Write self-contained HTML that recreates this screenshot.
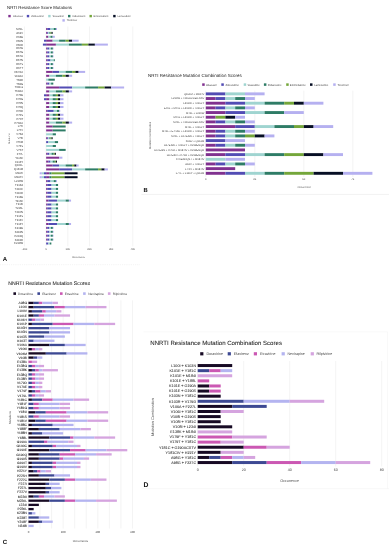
<!DOCTYPE html>
<html lang="en"><head><meta charset="utf-8"><title>Resistance mutation scores</title>
<style>
html,body{margin:0;padding:0;background:#fff;}
body{width:389px;height:550px;overflow:hidden;}
svg{display:block;font-family:"Liberation Sans", Arial, sans-serif;text-rendering:geometricPrecision;}
</style></head><body>
<svg width="389" height="550" viewBox="0 0 389 550">
<rect width="389" height="550" fill="#fff"/>
<line x1="24.49" y1="26.50" x2="24.49" y2="246.30" stroke="#e8e8e8" stroke-width="0.5"/>
<text x="24.49" y="249.60" font-size="2.7" text-anchor="middle" fill="#444" font-weight="normal">-100</text>
<line x1="46.15" y1="26.50" x2="46.15" y2="246.30" stroke="#e8e8e8" stroke-width="0.5"/>
<text x="46.15" y="249.60" font-size="2.7" text-anchor="middle" fill="#444" font-weight="normal">0</text>
<line x1="67.81" y1="26.50" x2="67.81" y2="246.30" stroke="#e8e8e8" stroke-width="0.5"/>
<text x="67.81" y="249.60" font-size="2.7" text-anchor="middle" fill="#444" font-weight="normal">100</text>
<line x1="89.47" y1="26.50" x2="89.47" y2="246.30" stroke="#e8e8e8" stroke-width="0.5"/>
<text x="89.47" y="249.60" font-size="2.7" text-anchor="middle" fill="#444" font-weight="normal">200</text>
<line x1="111.13" y1="26.50" x2="111.13" y2="246.30" stroke="#e8e8e8" stroke-width="0.5"/>
<text x="111.13" y="249.60" font-size="2.7" text-anchor="middle" fill="#444" font-weight="normal">300</text>
<line x1="132.79" y1="26.50" x2="132.79" y2="246.30" stroke="#e8e8e8" stroke-width="0.5"/>
<text x="132.79" y="249.60" font-size="2.7" text-anchor="middle" fill="#444" font-weight="normal">400</text>
<rect x="46.15" y="28.00" width="1.08" height="2.00" fill="#80318f"/>
<rect x="47.23" y="28.00" width="3.25" height="2.00" fill="#524cb4"/>
<rect x="50.48" y="28.00" width="3.25" height="2.00" fill="#9fd4d0"/>
<rect x="53.73" y="28.00" width="2.17" height="2.00" fill="#2e7c66"/>
<rect x="55.90" y="28.00" width="1.08" height="2.00" fill="#b5b0f0"/>
<rect x="46.15" y="31.90" width="1.08" height="2.00" fill="#80318f"/>
<rect x="47.23" y="31.90" width="1.08" height="2.00" fill="#524cb4"/>
<rect x="48.32" y="31.90" width="1.08" height="2.00" fill="#9fd4d0"/>
<rect x="49.40" y="31.90" width="1.08" height="2.00" fill="#2e7c66"/>
<rect x="50.48" y="31.90" width="1.08" height="2.00" fill="#74a63a"/>
<rect x="51.56" y="31.90" width="1.08" height="2.00" fill="#060e24"/>
<rect x="46.15" y="35.80" width="2.17" height="2.00" fill="#80318f"/>
<rect x="48.32" y="35.80" width="2.17" height="2.00" fill="#9fd4d0"/>
<rect x="50.48" y="35.80" width="2.17" height="2.00" fill="#2e7c66"/>
<rect x="52.65" y="35.80" width="2.17" height="2.00" fill="#b5b0f0"/>
<rect x="46.15" y="39.70" width="6.50" height="2.00" fill="#80318f"/>
<rect x="43.98" y="39.70" width="2.17" height="2.00" fill="#524cb4"/>
<rect x="52.65" y="39.70" width="6.50" height="2.00" fill="#9fd4d0"/>
<rect x="59.15" y="39.70" width="6.50" height="2.00" fill="#2e7c66"/>
<rect x="65.64" y="39.70" width="3.25" height="2.00" fill="#74a63a"/>
<rect x="68.89" y="39.70" width="3.25" height="2.00" fill="#060e24"/>
<rect x="72.14" y="39.70" width="6.50" height="2.00" fill="#b5b0f0"/>
<rect x="46.15" y="43.60" width="9.75" height="2.00" fill="#80318f"/>
<rect x="42.90" y="43.60" width="3.25" height="2.00" fill="#524cb4"/>
<rect x="55.90" y="43.60" width="13.00" height="2.00" fill="#9fd4d0"/>
<rect x="68.89" y="43.60" width="13.00" height="2.00" fill="#2e7c66"/>
<rect x="81.89" y="43.60" width="6.50" height="2.00" fill="#74a63a"/>
<rect x="88.39" y="43.60" width="6.50" height="2.00" fill="#060e24"/>
<rect x="94.88" y="43.60" width="13.00" height="2.00" fill="#b5b0f0"/>
<rect x="46.15" y="47.50" width="1.08" height="2.00" fill="#80318f"/>
<rect x="47.23" y="47.50" width="2.17" height="2.00" fill="#524cb4"/>
<rect x="49.40" y="47.50" width="1.52" height="2.00" fill="#9fd4d0"/>
<rect x="50.92" y="47.50" width="1.95" height="2.00" fill="#2e7c66"/>
<rect x="52.86" y="47.50" width="0.65" height="2.00" fill="#b5b0f0"/>
<rect x="46.15" y="51.40" width="1.08" height="2.00" fill="#80318f"/>
<rect x="47.23" y="51.40" width="2.17" height="2.00" fill="#524cb4"/>
<rect x="49.40" y="51.40" width="1.52" height="2.00" fill="#9fd4d0"/>
<rect x="50.92" y="51.40" width="1.95" height="2.00" fill="#2e7c66"/>
<rect x="52.86" y="51.40" width="0.65" height="2.00" fill="#b5b0f0"/>
<rect x="46.15" y="55.30" width="1.08" height="2.00" fill="#80318f"/>
<rect x="47.23" y="55.30" width="2.17" height="2.00" fill="#524cb4"/>
<rect x="49.40" y="55.30" width="1.52" height="2.00" fill="#9fd4d0"/>
<rect x="50.92" y="55.30" width="1.95" height="2.00" fill="#2e7c66"/>
<rect x="52.86" y="55.30" width="0.65" height="2.00" fill="#b5b0f0"/>
<rect x="46.15" y="59.20" width="1.08" height="2.00" fill="#80318f"/>
<rect x="47.23" y="59.20" width="3.25" height="2.00" fill="#524cb4"/>
<rect x="50.48" y="59.20" width="3.25" height="2.00" fill="#9fd4d0"/>
<rect x="53.73" y="59.20" width="1.08" height="2.00" fill="#2e7c66"/>
<rect x="46.15" y="63.10" width="1.08" height="2.00" fill="#80318f"/>
<rect x="47.23" y="63.10" width="2.17" height="2.00" fill="#524cb4"/>
<rect x="49.40" y="63.10" width="1.52" height="2.00" fill="#9fd4d0"/>
<rect x="50.92" y="63.10" width="1.95" height="2.00" fill="#2e7c66"/>
<rect x="52.86" y="63.10" width="0.65" height="2.00" fill="#b5b0f0"/>
<rect x="46.15" y="67.00" width="1.08" height="2.00" fill="#80318f"/>
<rect x="47.23" y="67.00" width="2.17" height="2.00" fill="#524cb4"/>
<rect x="49.40" y="67.00" width="1.52" height="2.00" fill="#9fd4d0"/>
<rect x="50.92" y="67.00" width="1.95" height="2.00" fill="#2e7c66"/>
<rect x="52.86" y="67.00" width="0.65" height="2.00" fill="#b5b0f0"/>
<rect x="46.15" y="70.90" width="6.50" height="2.00" fill="#80318f"/>
<rect x="52.65" y="70.90" width="6.50" height="2.00" fill="#524cb4"/>
<rect x="59.15" y="70.90" width="6.50" height="2.00" fill="#9fd4d0"/>
<rect x="65.64" y="70.90" width="6.50" height="2.00" fill="#2e7c66"/>
<rect x="72.14" y="70.90" width="3.25" height="2.00" fill="#74a63a"/>
<rect x="75.39" y="70.90" width="3.25" height="2.00" fill="#060e24"/>
<rect x="78.64" y="70.90" width="6.50" height="2.00" fill="#b5b0f0"/>
<rect x="46.15" y="74.80" width="3.25" height="2.00" fill="#80318f"/>
<rect x="49.40" y="74.80" width="6.50" height="2.00" fill="#9fd4d0"/>
<rect x="55.90" y="74.80" width="6.50" height="2.00" fill="#2e7c66"/>
<rect x="62.39" y="74.80" width="3.25" height="2.00" fill="#74a63a"/>
<rect x="65.64" y="74.80" width="3.25" height="2.00" fill="#060e24"/>
<rect x="68.89" y="74.80" width="3.25" height="2.00" fill="#b5b0f0"/>
<rect x="46.15" y="78.70" width="2.17" height="2.00" fill="#9fd4d0"/>
<rect x="48.32" y="78.70" width="6.50" height="2.00" fill="#2e7c66"/>
<rect x="46.15" y="82.60" width="1.08" height="2.00" fill="#80318f"/>
<rect x="47.23" y="82.60" width="2.17" height="2.00" fill="#524cb4"/>
<rect x="49.40" y="82.60" width="1.73" height="2.00" fill="#9fd4d0"/>
<rect x="51.13" y="82.60" width="2.17" height="2.00" fill="#2e7c66"/>
<rect x="46.15" y="86.50" width="13.00" height="2.00" fill="#80318f"/>
<rect x="59.15" y="86.50" width="13.00" height="2.00" fill="#524cb4"/>
<rect x="72.14" y="86.50" width="13.00" height="2.00" fill="#9fd4d0"/>
<rect x="85.14" y="86.50" width="13.00" height="2.00" fill="#2e7c66"/>
<rect x="98.13" y="86.50" width="6.50" height="2.00" fill="#74a63a"/>
<rect x="104.63" y="86.50" width="6.50" height="2.00" fill="#060e24"/>
<rect x="111.13" y="86.50" width="13.00" height="2.00" fill="#b5b0f0"/>
<rect x="46.15" y="90.40" width="3.25" height="2.00" fill="#80318f"/>
<rect x="49.40" y="90.40" width="6.50" height="2.00" fill="#9fd4d0"/>
<rect x="55.90" y="90.40" width="6.50" height="2.00" fill="#2e7c66"/>
<rect x="62.39" y="90.40" width="3.25" height="2.00" fill="#74a63a"/>
<rect x="65.64" y="90.40" width="3.25" height="2.00" fill="#060e24"/>
<rect x="68.89" y="90.40" width="3.25" height="2.00" fill="#b5b0f0"/>
<rect x="46.15" y="94.30" width="3.25" height="2.00" fill="#80318f"/>
<rect x="43.98" y="94.30" width="2.17" height="2.00" fill="#524cb4"/>
<rect x="49.40" y="94.30" width="3.25" height="2.00" fill="#9fd4d0"/>
<rect x="52.65" y="94.30" width="3.25" height="2.00" fill="#2e7c66"/>
<rect x="55.90" y="94.30" width="2.17" height="2.00" fill="#74a63a"/>
<rect x="58.06" y="94.30" width="2.17" height="2.00" fill="#060e24"/>
<rect x="60.23" y="94.30" width="3.25" height="2.00" fill="#b5b0f0"/>
<rect x="46.15" y="98.20" width="3.25" height="2.00" fill="#80318f"/>
<rect x="43.98" y="98.20" width="2.17" height="2.00" fill="#524cb4"/>
<rect x="49.40" y="98.20" width="3.25" height="2.00" fill="#9fd4d0"/>
<rect x="52.65" y="98.20" width="3.25" height="2.00" fill="#2e7c66"/>
<rect x="55.90" y="98.20" width="2.17" height="2.00" fill="#74a63a"/>
<rect x="58.06" y="98.20" width="2.17" height="2.00" fill="#060e24"/>
<rect x="60.23" y="98.20" width="3.25" height="2.00" fill="#b5b0f0"/>
<rect x="46.15" y="102.10" width="3.25" height="2.00" fill="#80318f"/>
<rect x="49.40" y="102.10" width="3.25" height="2.00" fill="#9fd4d0"/>
<rect x="52.65" y="102.10" width="3.25" height="2.00" fill="#2e7c66"/>
<rect x="55.90" y="102.10" width="2.17" height="2.00" fill="#74a63a"/>
<rect x="58.06" y="102.10" width="2.17" height="2.00" fill="#060e24"/>
<rect x="60.23" y="102.10" width="3.25" height="2.00" fill="#b5b0f0"/>
<rect x="46.15" y="106.00" width="3.25" height="2.00" fill="#80318f"/>
<rect x="49.40" y="106.00" width="3.25" height="2.00" fill="#9fd4d0"/>
<rect x="52.65" y="106.00" width="3.25" height="2.00" fill="#2e7c66"/>
<rect x="55.90" y="106.00" width="2.17" height="2.00" fill="#74a63a"/>
<rect x="58.06" y="106.00" width="2.17" height="2.00" fill="#060e24"/>
<rect x="60.23" y="106.00" width="3.25" height="2.00" fill="#b5b0f0"/>
<rect x="46.15" y="109.90" width="1.08" height="2.00" fill="#80318f"/>
<rect x="47.23" y="109.90" width="6.50" height="2.00" fill="#524cb4"/>
<rect x="53.73" y="109.90" width="3.25" height="2.00" fill="#9fd4d0"/>
<rect x="56.98" y="109.90" width="2.17" height="2.00" fill="#2e7c66"/>
<rect x="59.15" y="109.90" width="1.08" height="2.00" fill="#b5b0f0"/>
<rect x="46.15" y="113.80" width="3.25" height="2.00" fill="#80318f"/>
<rect x="49.40" y="113.80" width="3.25" height="2.00" fill="#9fd4d0"/>
<rect x="52.65" y="113.80" width="3.25" height="2.00" fill="#2e7c66"/>
<rect x="55.90" y="113.80" width="2.17" height="2.00" fill="#74a63a"/>
<rect x="58.06" y="113.80" width="2.17" height="2.00" fill="#060e24"/>
<rect x="60.23" y="113.80" width="3.25" height="2.00" fill="#b5b0f0"/>
<rect x="46.15" y="117.70" width="3.25" height="2.00" fill="#80318f"/>
<rect x="49.40" y="117.70" width="3.25" height="2.00" fill="#9fd4d0"/>
<rect x="52.65" y="117.70" width="3.25" height="2.00" fill="#2e7c66"/>
<rect x="55.90" y="117.70" width="2.17" height="2.00" fill="#74a63a"/>
<rect x="58.06" y="117.70" width="2.17" height="2.00" fill="#060e24"/>
<rect x="60.23" y="117.70" width="3.25" height="2.00" fill="#b5b0f0"/>
<rect x="46.15" y="121.60" width="3.25" height="2.00" fill="#80318f"/>
<rect x="49.40" y="121.60" width="6.50" height="2.00" fill="#9fd4d0"/>
<rect x="55.90" y="121.60" width="6.50" height="2.00" fill="#2e7c66"/>
<rect x="62.39" y="121.60" width="3.25" height="2.00" fill="#74a63a"/>
<rect x="65.64" y="121.60" width="3.25" height="2.00" fill="#060e24"/>
<rect x="68.89" y="121.60" width="3.25" height="2.00" fill="#b5b0f0"/>
<rect x="46.15" y="125.50" width="6.50" height="2.00" fill="#80318f"/>
<rect x="52.65" y="125.50" width="13.00" height="2.00" fill="#2e7c66"/>
<rect x="46.15" y="129.40" width="6.50" height="2.00" fill="#80318f"/>
<rect x="52.65" y="129.40" width="13.00" height="2.00" fill="#2e7c66"/>
<rect x="46.15" y="133.30" width="6.50" height="2.00" fill="#9fd4d0"/>
<rect x="52.65" y="133.30" width="3.25" height="2.00" fill="#2e7c66"/>
<rect x="46.15" y="137.20" width="1.08" height="2.00" fill="#80318f"/>
<rect x="47.23" y="137.20" width="1.08" height="2.00" fill="#524cb4"/>
<rect x="48.32" y="137.20" width="1.08" height="2.00" fill="#9fd4d0"/>
<rect x="49.40" y="137.20" width="1.08" height="2.00" fill="#2e7c66"/>
<rect x="50.48" y="137.20" width="1.08" height="2.00" fill="#74a63a"/>
<rect x="51.56" y="137.20" width="1.08" height="2.00" fill="#060e24"/>
<rect x="46.15" y="141.10" width="2.17" height="2.00" fill="#524cb4"/>
<rect x="48.32" y="141.10" width="6.50" height="2.00" fill="#9fd4d0"/>
<rect x="54.81" y="141.10" width="3.25" height="2.00" fill="#2e7c66"/>
<rect x="46.15" y="145.00" width="6.50" height="2.00" fill="#9fd4d0"/>
<rect x="52.65" y="145.00" width="3.25" height="2.00" fill="#2e7c66"/>
<rect x="46.15" y="148.90" width="13.00" height="2.00" fill="#9fd4d0"/>
<rect x="59.15" y="148.90" width="6.50" height="2.00" fill="#2e7c66"/>
<rect x="46.15" y="152.80" width="1.08" height="2.00" fill="#80318f"/>
<rect x="47.23" y="152.80" width="2.17" height="2.00" fill="#524cb4"/>
<rect x="49.40" y="152.80" width="2.17" height="2.00" fill="#9fd4d0"/>
<rect x="51.56" y="152.80" width="2.17" height="2.00" fill="#2e7c66"/>
<rect x="53.73" y="152.80" width="1.08" height="2.00" fill="#74a63a"/>
<rect x="54.81" y="152.80" width="1.08" height="2.00" fill="#060e24"/>
<rect x="46.15" y="156.70" width="13.00" height="2.00" fill="#80318f"/>
<rect x="59.15" y="156.70" width="3.25" height="2.00" fill="#b5b0f0"/>
<rect x="46.15" y="160.60" width="2.17" height="2.00" fill="#80318f"/>
<rect x="48.32" y="160.60" width="2.17" height="2.00" fill="#524cb4"/>
<rect x="50.48" y="160.60" width="2.17" height="2.00" fill="#9fd4d0"/>
<rect x="52.65" y="160.60" width="2.17" height="2.00" fill="#2e7c66"/>
<rect x="54.81" y="160.60" width="1.08" height="2.00" fill="#74a63a"/>
<rect x="55.90" y="160.60" width="1.08" height="2.00" fill="#060e24"/>
<rect x="46.15" y="164.50" width="6.50" height="2.00" fill="#80318f"/>
<rect x="52.65" y="164.50" width="6.50" height="2.00" fill="#524cb4"/>
<rect x="59.15" y="164.50" width="6.50" height="2.00" fill="#9fd4d0"/>
<rect x="65.64" y="164.50" width="6.50" height="2.00" fill="#2e7c66"/>
<rect x="72.14" y="164.50" width="2.17" height="2.00" fill="#74a63a"/>
<rect x="74.31" y="164.50" width="2.17" height="2.00" fill="#060e24"/>
<rect x="76.47" y="164.50" width="2.17" height="2.00" fill="#b5b0f0"/>
<rect x="46.15" y="168.40" width="13.00" height="2.00" fill="#80318f"/>
<rect x="59.15" y="168.40" width="13.00" height="2.00" fill="#524cb4"/>
<rect x="72.14" y="168.40" width="13.00" height="2.00" fill="#9fd4d0"/>
<rect x="85.14" y="168.40" width="13.00" height="2.00" fill="#2e7c66"/>
<rect x="98.13" y="168.40" width="3.25" height="2.00" fill="#74a63a"/>
<rect x="101.38" y="168.40" width="3.25" height="2.00" fill="#060e24"/>
<rect x="104.63" y="168.40" width="3.25" height="2.00" fill="#b5b0f0"/>
<rect x="46.15" y="172.30" width="3.25" height="2.00" fill="#80318f"/>
<rect x="43.98" y="172.30" width="2.17" height="2.00" fill="#524cb4"/>
<rect x="41.82" y="172.30" width="2.17" height="2.00" fill="#9fd4d0"/>
<rect x="49.40" y="172.30" width="2.17" height="2.00" fill="#2e7c66"/>
<rect x="51.56" y="172.30" width="13.00" height="2.00" fill="#74a63a"/>
<rect x="64.56" y="172.30" width="13.00" height="2.00" fill="#060e24"/>
<rect x="39.65" y="172.30" width="2.17" height="2.00" fill="#b5b0f0"/>
<rect x="46.15" y="176.20" width="3.25" height="2.00" fill="#80318f"/>
<rect x="43.98" y="176.20" width="2.17" height="2.00" fill="#524cb4"/>
<rect x="41.82" y="176.20" width="2.17" height="2.00" fill="#9fd4d0"/>
<rect x="49.40" y="176.20" width="2.17" height="2.00" fill="#2e7c66"/>
<rect x="51.56" y="176.20" width="13.00" height="2.00" fill="#74a63a"/>
<rect x="64.56" y="176.20" width="13.00" height="2.00" fill="#060e24"/>
<rect x="39.65" y="176.20" width="2.17" height="2.00" fill="#b5b0f0"/>
<rect x="46.15" y="180.10" width="1.08" height="2.00" fill="#80318f"/>
<rect x="47.23" y="180.10" width="3.25" height="2.00" fill="#524cb4"/>
<rect x="50.48" y="180.10" width="3.25" height="2.00" fill="#9fd4d0"/>
<rect x="53.73" y="180.10" width="2.17" height="2.00" fill="#2e7c66"/>
<rect x="55.90" y="180.10" width="1.08" height="2.00" fill="#b5b0f0"/>
<rect x="46.15" y="184.00" width="1.08" height="2.00" fill="#80318f"/>
<rect x="47.23" y="184.00" width="4.33" height="2.00" fill="#524cb4"/>
<rect x="51.56" y="184.00" width="4.33" height="2.00" fill="#9fd4d0"/>
<rect x="55.90" y="184.00" width="2.17" height="2.00" fill="#2e7c66"/>
<rect x="46.15" y="187.90" width="1.08" height="2.00" fill="#80318f"/>
<rect x="47.23" y="187.90" width="4.33" height="2.00" fill="#524cb4"/>
<rect x="51.56" y="187.90" width="4.33" height="2.00" fill="#9fd4d0"/>
<rect x="55.90" y="187.90" width="2.17" height="2.00" fill="#2e7c66"/>
<rect x="46.15" y="191.80" width="1.08" height="2.00" fill="#80318f"/>
<rect x="47.23" y="191.80" width="4.33" height="2.00" fill="#524cb4"/>
<rect x="51.56" y="191.80" width="4.33" height="2.00" fill="#9fd4d0"/>
<rect x="55.90" y="191.80" width="2.17" height="2.00" fill="#2e7c66"/>
<rect x="46.15" y="195.70" width="1.08" height="2.00" fill="#80318f"/>
<rect x="47.23" y="195.70" width="4.33" height="2.00" fill="#524cb4"/>
<rect x="51.56" y="195.70" width="4.33" height="2.00" fill="#9fd4d0"/>
<rect x="55.90" y="195.70" width="2.17" height="2.00" fill="#2e7c66"/>
<rect x="46.15" y="199.60" width="2.17" height="2.00" fill="#80318f"/>
<rect x="48.32" y="199.60" width="8.66" height="2.00" fill="#524cb4"/>
<rect x="56.98" y="199.60" width="8.66" height="2.00" fill="#9fd4d0"/>
<rect x="65.64" y="199.60" width="3.25" height="2.00" fill="#2e7c66"/>
<rect x="68.89" y="199.60" width="2.17" height="2.00" fill="#b5b0f0"/>
<rect x="46.15" y="203.50" width="1.08" height="2.00" fill="#80318f"/>
<rect x="47.23" y="203.50" width="4.33" height="2.00" fill="#524cb4"/>
<rect x="51.56" y="203.50" width="4.33" height="2.00" fill="#9fd4d0"/>
<rect x="55.90" y="203.50" width="2.17" height="2.00" fill="#2e7c66"/>
<rect x="46.15" y="207.40" width="1.08" height="2.00" fill="#80318f"/>
<rect x="47.23" y="207.40" width="4.33" height="2.00" fill="#524cb4"/>
<rect x="51.56" y="207.40" width="4.33" height="2.00" fill="#9fd4d0"/>
<rect x="55.90" y="207.40" width="2.17" height="2.00" fill="#2e7c66"/>
<rect x="46.15" y="211.30" width="1.08" height="2.00" fill="#80318f"/>
<rect x="47.23" y="211.30" width="4.33" height="2.00" fill="#524cb4"/>
<rect x="51.56" y="211.30" width="4.33" height="2.00" fill="#9fd4d0"/>
<rect x="55.90" y="211.30" width="2.17" height="2.00" fill="#2e7c66"/>
<rect x="46.15" y="215.20" width="1.08" height="2.00" fill="#80318f"/>
<rect x="47.23" y="215.20" width="4.33" height="2.00" fill="#524cb4"/>
<rect x="51.56" y="215.20" width="4.33" height="2.00" fill="#9fd4d0"/>
<rect x="55.90" y="215.20" width="2.17" height="2.00" fill="#2e7c66"/>
<rect x="46.15" y="219.10" width="1.08" height="2.00" fill="#80318f"/>
<rect x="47.23" y="219.10" width="4.33" height="2.00" fill="#524cb4"/>
<rect x="51.56" y="219.10" width="4.33" height="2.00" fill="#9fd4d0"/>
<rect x="55.90" y="219.10" width="2.17" height="2.00" fill="#2e7c66"/>
<rect x="46.15" y="223.00" width="2.17" height="2.00" fill="#80318f"/>
<rect x="48.32" y="223.00" width="8.66" height="2.00" fill="#524cb4"/>
<rect x="56.98" y="223.00" width="8.66" height="2.00" fill="#9fd4d0"/>
<rect x="65.64" y="223.00" width="3.25" height="2.00" fill="#2e7c66"/>
<rect x="68.89" y="223.00" width="2.17" height="2.00" fill="#b5b0f0"/>
<rect x="46.15" y="226.90" width="1.08" height="2.00" fill="#80318f"/>
<rect x="47.23" y="226.90" width="2.17" height="2.00" fill="#524cb4"/>
<rect x="49.40" y="226.90" width="1.52" height="2.00" fill="#9fd4d0"/>
<rect x="50.92" y="226.90" width="1.95" height="2.00" fill="#2e7c66"/>
<rect x="52.86" y="226.90" width="0.65" height="2.00" fill="#b5b0f0"/>
<rect x="46.15" y="230.80" width="1.08" height="2.00" fill="#80318f"/>
<rect x="47.23" y="230.80" width="2.17" height="2.00" fill="#524cb4"/>
<rect x="49.40" y="230.80" width="1.52" height="2.00" fill="#9fd4d0"/>
<rect x="50.92" y="230.80" width="1.95" height="2.00" fill="#2e7c66"/>
<rect x="52.86" y="230.80" width="0.65" height="2.00" fill="#b5b0f0"/>
<rect x="46.15" y="234.70" width="1.08" height="2.00" fill="#80318f"/>
<rect x="47.23" y="234.70" width="2.17" height="2.00" fill="#524cb4"/>
<rect x="49.40" y="234.70" width="1.52" height="2.00" fill="#9fd4d0"/>
<rect x="50.92" y="234.70" width="1.95" height="2.00" fill="#2e7c66"/>
<rect x="52.86" y="234.70" width="0.65" height="2.00" fill="#b5b0f0"/>
<rect x="46.15" y="238.60" width="1.08" height="2.00" fill="#80318f"/>
<rect x="47.23" y="238.60" width="2.17" height="2.00" fill="#524cb4"/>
<rect x="49.40" y="238.60" width="1.52" height="2.00" fill="#9fd4d0"/>
<rect x="50.92" y="238.60" width="1.95" height="2.00" fill="#2e7c66"/>
<rect x="52.86" y="238.60" width="0.65" height="2.00" fill="#b5b0f0"/>
<rect x="46.15" y="242.50" width="2.17" height="2.00" fill="#524cb4"/>
<rect x="48.32" y="242.50" width="1.52" height="2.00" fill="#9fd4d0"/>
<rect x="49.83" y="242.50" width="1.52" height="2.00" fill="#2e7c66"/>
<text x="23.10" y="29.95" font-size="2.75" text-anchor="end" fill="#3c3c3c" font-weight="normal">M41L</text>
<text x="23.10" y="33.85" font-size="2.75" text-anchor="end" fill="#3c3c3c" font-weight="normal">A62V</text>
<text x="23.10" y="37.75" font-size="2.75" text-anchor="end" fill="#3c3c3c" font-weight="normal">K65E</text>
<text x="23.10" y="41.65" font-size="2.75" text-anchor="end" fill="#3c3c3c" font-weight="normal">K65N</text>
<text x="23.10" y="45.55" font-size="2.75" text-anchor="end" fill="#3c3c3c" font-weight="normal">K65R</text>
<text x="23.10" y="49.45" font-size="2.75" text-anchor="end" fill="#3c3c3c" font-weight="normal">D67E</text>
<text x="23.10" y="53.35" font-size="2.75" text-anchor="end" fill="#3c3c3c" font-weight="normal">D67G</text>
<text x="23.10" y="57.25" font-size="2.75" text-anchor="end" fill="#3c3c3c" font-weight="normal">D67H</text>
<text x="23.10" y="61.15" font-size="2.75" text-anchor="end" fill="#3c3c3c" font-weight="normal">D67N</text>
<text x="23.10" y="65.05" font-size="2.75" text-anchor="end" fill="#3c3c3c" font-weight="normal">D67S</text>
<text x="23.10" y="68.95" font-size="2.75" text-anchor="end" fill="#3c3c3c" font-weight="normal">D67T</text>
<text x="23.10" y="72.85" font-size="2.75" text-anchor="end" fill="#3c3c3c" font-weight="normal">D67del</text>
<text x="23.10" y="76.75" font-size="2.75" text-anchor="end" fill="#3c3c3c" font-weight="normal">S68del</text>
<text x="23.10" y="80.65" font-size="2.75" text-anchor="end" fill="#3c3c3c" font-weight="normal">T69D</text>
<text x="23.10" y="84.55" font-size="2.75" text-anchor="end" fill="#3c3c3c" font-weight="normal">T69G</text>
<text x="23.10" y="88.45" font-size="2.75" text-anchor="end" fill="#3c3c3c" font-weight="normal">T69ins</text>
<text x="23.10" y="92.35" font-size="2.75" text-anchor="end" fill="#3c3c3c" font-weight="normal">T69del</text>
<text x="23.10" y="96.25" font-size="2.75" text-anchor="end" fill="#3c3c3c" font-weight="normal">K70E</text>
<text x="23.10" y="100.15" font-size="2.75" text-anchor="end" fill="#3c3c3c" font-weight="normal">K70G</text>
<text x="23.10" y="104.05" font-size="2.75" text-anchor="end" fill="#3c3c3c" font-weight="normal">K70N</text>
<text x="23.10" y="107.95" font-size="2.75" text-anchor="end" fill="#3c3c3c" font-weight="normal">K70Q</text>
<text x="23.10" y="111.85" font-size="2.75" text-anchor="end" fill="#3c3c3c" font-weight="normal">K70R</text>
<text x="23.10" y="115.75" font-size="2.75" text-anchor="end" fill="#3c3c3c" font-weight="normal">K70S</text>
<text x="23.10" y="119.65" font-size="2.75" text-anchor="end" fill="#3c3c3c" font-weight="normal">K70T</text>
<text x="23.10" y="123.55" font-size="2.75" text-anchor="end" fill="#3c3c3c" font-weight="normal">K70del</text>
<text x="23.10" y="127.45" font-size="2.75" text-anchor="end" fill="#3c3c3c" font-weight="normal">L74I</text>
<text x="23.10" y="131.35" font-size="2.75" text-anchor="end" fill="#3c3c3c" font-weight="normal">L74V</text>
<text x="23.10" y="135.25" font-size="2.75" text-anchor="end" fill="#3c3c3c" font-weight="normal">V75A</text>
<text x="23.10" y="139.15" font-size="2.75" text-anchor="end" fill="#3c3c3c" font-weight="normal">V75I</text>
<text x="23.10" y="143.05" font-size="2.75" text-anchor="end" fill="#3c3c3c" font-weight="normal">V75M</text>
<text x="23.10" y="146.95" font-size="2.75" text-anchor="end" fill="#3c3c3c" font-weight="normal">V75S</text>
<text x="23.10" y="150.85" font-size="2.75" text-anchor="end" fill="#3c3c3c" font-weight="normal">V75T</text>
<text x="23.10" y="154.75" font-size="2.75" text-anchor="end" fill="#3c3c3c" font-weight="normal">F77L</text>
<text x="23.10" y="158.65" font-size="2.75" text-anchor="end" fill="#3c3c3c" font-weight="normal">Y115F</text>
<text x="23.10" y="162.55" font-size="2.75" text-anchor="end" fill="#3c3c3c" font-weight="normal">F116Y</text>
<text x="23.10" y="166.45" font-size="2.75" text-anchor="end" fill="#3c3c3c" font-weight="normal">Q151L</text>
<text x="23.10" y="170.35" font-size="2.75" text-anchor="end" fill="#3c3c3c" font-weight="normal">Q151M</text>
<text x="23.10" y="174.25" font-size="2.75" text-anchor="end" fill="#3c3c3c" font-weight="normal">M184I</text>
<text x="23.10" y="178.15" font-size="2.75" text-anchor="end" fill="#3c3c3c" font-weight="normal">M184V</text>
<text x="23.10" y="182.05" font-size="2.75" text-anchor="end" fill="#3c3c3c" font-weight="normal">L210W</text>
<text x="23.10" y="185.95" font-size="2.75" text-anchor="end" fill="#3c3c3c" font-weight="normal">T215A</text>
<text x="23.10" y="189.85" font-size="2.75" text-anchor="end" fill="#3c3c3c" font-weight="normal">T215C</text>
<text x="23.10" y="193.75" font-size="2.75" text-anchor="end" fill="#3c3c3c" font-weight="normal">T215D</text>
<text x="23.10" y="197.65" font-size="2.75" text-anchor="end" fill="#3c3c3c" font-weight="normal">T215E</text>
<text x="23.10" y="201.55" font-size="2.75" text-anchor="end" fill="#3c3c3c" font-weight="normal">T215F</text>
<text x="23.10" y="205.45" font-size="2.75" text-anchor="end" fill="#3c3c3c" font-weight="normal">T215I</text>
<text x="23.10" y="209.35" font-size="2.75" text-anchor="end" fill="#3c3c3c" font-weight="normal">T215L</text>
<text x="23.10" y="213.25" font-size="2.75" text-anchor="end" fill="#3c3c3c" font-weight="normal">T215N</text>
<text x="23.10" y="217.15" font-size="2.75" text-anchor="end" fill="#3c3c3c" font-weight="normal">T215S</text>
<text x="23.10" y="221.05" font-size="2.75" text-anchor="end" fill="#3c3c3c" font-weight="normal">T215V</text>
<text x="23.10" y="224.95" font-size="2.75" text-anchor="end" fill="#3c3c3c" font-weight="normal">T215Y</text>
<text x="23.10" y="228.85" font-size="2.75" text-anchor="end" fill="#3c3c3c" font-weight="normal">K219E</text>
<text x="23.10" y="232.75" font-size="2.75" text-anchor="end" fill="#3c3c3c" font-weight="normal">K219N</text>
<text x="23.10" y="236.65" font-size="2.75" text-anchor="end" fill="#3c3c3c" font-weight="normal">K219Q</text>
<text x="23.10" y="240.55" font-size="2.75" text-anchor="end" fill="#3c3c3c" font-weight="normal">K219R</text>
<text x="23.10" y="244.45" font-size="2.75" text-anchor="end" fill="#3c3c3c" font-weight="normal">K219W</text>
<text x="7.10" y="8.70" font-size="4.32" text-anchor="start" fill="#222" font-weight="normal">NRTI Resistance Score Mutations</text>
<text x="78.50" y="257.90" font-size="2.45" text-anchor="middle" fill="#555" font-weight="normal">Occurrence</text>
<text x="9.80" y="138.60" font-size="2.4" text-anchor="middle" fill="#555" font-weight="normal" transform="rotate(-90 9.80 138.60)">Mutations</text>
<text x="2.80" y="261.05" font-size="6.0" text-anchor="start" fill="#111" font-weight="bold">A</text>
<rect x="8.30" y="14.90" width="2.40" height="2.40" fill="#80318f"/>
<text x="13.05" y="17.00" font-size="2.6" text-anchor="start" fill="#484848" font-weight="normal">Abacavir</text>
<rect x="26.80" y="14.90" width="2.40" height="2.40" fill="#524cb4"/>
<text x="31.20" y="17.00" font-size="2.6" text-anchor="start" fill="#484848" font-weight="normal">Zidovudine</text>
<rect x="48.20" y="14.90" width="2.40" height="2.40" fill="#9fd4d0"/>
<text x="52.50" y="17.00" font-size="2.6" text-anchor="start" fill="#484848" font-weight="normal">Stavudine</text>
<rect x="68.00" y="14.90" width="2.40" height="2.40" fill="#2e7c66"/>
<text x="72.40" y="17.00" font-size="2.6" text-anchor="start" fill="#484848" font-weight="normal">Didanosine</text>
<rect x="89.50" y="14.90" width="2.40" height="2.40" fill="#74a63a"/>
<text x="93.50" y="17.00" font-size="2.6" text-anchor="start" fill="#484848" font-weight="normal">Emtricitabine</text>
<rect x="113.20" y="14.90" width="2.40" height="2.40" fill="#060e24"/>
<text x="117.40" y="17.00" font-size="2.6" text-anchor="start" fill="#484848" font-weight="normal">Lamivudine</text>
<rect x="62.40" y="19.20" width="2.40" height="2.40" fill="#b5b0f0"/>
<text x="66.70" y="21.30" font-size="2.6" text-anchor="start" fill="#484848" font-weight="normal">Tenofovir</text>
<line x1="0.00" y1="264.70" x2="140.00" y2="264.70" stroke="#dedede" stroke-width="0.5" stroke-dasharray="0.7 1.15"/>
<line x1="205.80" y1="90.60" x2="205.80" y2="177.00" stroke="#e8e8e8" stroke-width="0.5"/>
<text x="205.80" y="179.90" font-size="2.7" text-anchor="middle" fill="#444" font-weight="normal">0</text>
<line x1="254.80" y1="90.60" x2="254.80" y2="177.00" stroke="#e8e8e8" stroke-width="0.5"/>
<text x="254.80" y="179.90" font-size="2.7" text-anchor="middle" fill="#444" font-weight="normal">25</text>
<line x1="303.80" y1="90.60" x2="303.80" y2="177.00" stroke="#e8e8e8" stroke-width="0.5"/>
<text x="303.80" y="179.90" font-size="2.7" text-anchor="middle" fill="#444" font-weight="normal">50</text>
<line x1="352.80" y1="90.60" x2="352.80" y2="177.00" stroke="#e8e8e8" stroke-width="0.5"/>
<text x="352.80" y="179.90" font-size="2.7" text-anchor="middle" fill="#444" font-weight="normal">75</text>
<rect x="205.80" y="92.40" width="19.60" height="2.90" fill="#524cb4"/>
<rect x="225.40" y="92.40" width="19.60" height="2.90" fill="#9fd4d0"/>
<rect x="245.00" y="92.40" width="19.60" height="2.90" fill="#b5b0f0"/>
<rect x="205.80" y="97.07" width="9.80" height="2.90" fill="#80318f"/>
<rect x="215.60" y="97.07" width="9.80" height="2.90" fill="#524cb4"/>
<rect x="225.40" y="97.07" width="9.80" height="2.90" fill="#9fd4d0"/>
<rect x="235.20" y="97.07" width="9.80" height="2.90" fill="#2e7c66"/>
<rect x="245.00" y="97.07" width="9.80" height="2.90" fill="#b5b0f0"/>
<rect x="205.80" y="101.75" width="19.60" height="2.90" fill="#80318f"/>
<rect x="225.40" y="101.75" width="19.60" height="2.90" fill="#524cb4"/>
<rect x="245.00" y="101.75" width="19.60" height="2.90" fill="#9fd4d0"/>
<rect x="264.60" y="101.75" width="19.60" height="2.90" fill="#2e7c66"/>
<rect x="284.20" y="101.75" width="9.80" height="2.90" fill="#74a63a"/>
<rect x="294.00" y="101.75" width="9.80" height="2.90" fill="#060e24"/>
<rect x="303.80" y="101.75" width="19.60" height="2.90" fill="#b5b0f0"/>
<rect x="205.80" y="106.42" width="9.80" height="2.90" fill="#80318f"/>
<rect x="215.60" y="106.42" width="9.80" height="2.90" fill="#524cb4"/>
<rect x="225.40" y="106.42" width="9.80" height="2.90" fill="#9fd4d0"/>
<rect x="235.20" y="106.42" width="9.80" height="2.90" fill="#2e7c66"/>
<rect x="245.00" y="106.42" width="9.80" height="2.90" fill="#b5b0f0"/>
<rect x="205.80" y="111.10" width="19.60" height="2.90" fill="#80318f"/>
<rect x="225.40" y="111.10" width="19.60" height="2.90" fill="#524cb4"/>
<rect x="245.00" y="111.10" width="19.60" height="2.90" fill="#9fd4d0"/>
<rect x="264.60" y="111.10" width="19.60" height="2.90" fill="#2e7c66"/>
<rect x="284.20" y="111.10" width="19.60" height="2.90" fill="#b5b0f0"/>
<rect x="205.80" y="115.77" width="9.80" height="2.90" fill="#80318f"/>
<rect x="215.60" y="115.77" width="9.80" height="2.90" fill="#74a63a"/>
<rect x="225.40" y="115.77" width="9.80" height="2.90" fill="#060e24"/>
<rect x="235.20" y="115.77" width="9.80" height="2.90" fill="#b5b0f0"/>
<rect x="205.80" y="120.44" width="9.80" height="2.90" fill="#80318f"/>
<rect x="215.60" y="120.44" width="9.80" height="2.90" fill="#524cb4"/>
<rect x="225.40" y="120.44" width="9.80" height="2.90" fill="#9fd4d0"/>
<rect x="235.20" y="120.44" width="9.80" height="2.90" fill="#2e7c66"/>
<rect x="245.00" y="120.44" width="9.80" height="2.90" fill="#b5b0f0"/>
<rect x="205.80" y="125.12" width="29.40" height="2.90" fill="#80318f"/>
<rect x="235.20" y="125.12" width="19.60" height="2.90" fill="#524cb4"/>
<rect x="254.80" y="125.12" width="19.60" height="2.90" fill="#9fd4d0"/>
<rect x="274.40" y="125.12" width="19.60" height="2.90" fill="#2e7c66"/>
<rect x="294.00" y="125.12" width="9.80" height="2.90" fill="#74a63a"/>
<rect x="303.80" y="125.12" width="9.80" height="2.90" fill="#060e24"/>
<rect x="313.60" y="125.12" width="19.60" height="2.90" fill="#b5b0f0"/>
<rect x="205.80" y="129.79" width="9.80" height="2.90" fill="#80318f"/>
<rect x="215.60" y="129.79" width="9.80" height="2.90" fill="#524cb4"/>
<rect x="225.40" y="129.79" width="9.80" height="2.90" fill="#9fd4d0"/>
<rect x="235.20" y="129.79" width="9.80" height="2.90" fill="#2e7c66"/>
<rect x="245.00" y="129.79" width="9.80" height="2.90" fill="#b5b0f0"/>
<rect x="205.80" y="134.47" width="9.80" height="2.90" fill="#80318f"/>
<rect x="215.60" y="134.47" width="9.80" height="2.90" fill="#524cb4"/>
<rect x="225.40" y="134.47" width="9.80" height="2.90" fill="#9fd4d0"/>
<rect x="235.20" y="134.47" width="9.80" height="2.90" fill="#2e7c66"/>
<rect x="245.00" y="134.47" width="9.80" height="2.90" fill="#74a63a"/>
<rect x="254.80" y="134.47" width="9.80" height="2.90" fill="#060e24"/>
<rect x="264.60" y="134.47" width="9.80" height="2.90" fill="#b5b0f0"/>
<rect x="205.80" y="139.14" width="19.60" height="2.90" fill="#524cb4"/>
<rect x="225.40" y="139.14" width="19.60" height="2.90" fill="#b5b0f0"/>
<rect x="205.80" y="143.81" width="9.80" height="2.90" fill="#80318f"/>
<rect x="215.60" y="143.81" width="9.80" height="2.90" fill="#524cb4"/>
<rect x="225.40" y="143.81" width="9.80" height="2.90" fill="#9fd4d0"/>
<rect x="235.20" y="143.81" width="9.80" height="2.90" fill="#2e7c66"/>
<rect x="245.00" y="143.81" width="9.80" height="2.90" fill="#b5b0f0"/>
<rect x="205.80" y="148.49" width="39.20" height="2.90" fill="#80318f"/>
<rect x="205.80" y="153.16" width="19.60" height="2.90" fill="#80318f"/>
<rect x="225.40" y="153.16" width="19.60" height="2.90" fill="#524cb4"/>
<rect x="245.00" y="153.16" width="19.60" height="2.90" fill="#9fd4d0"/>
<rect x="264.60" y="153.16" width="19.60" height="2.90" fill="#2e7c66"/>
<rect x="284.20" y="153.16" width="19.60" height="2.90" fill="#74a63a"/>
<rect x="303.80" y="153.16" width="19.60" height="2.90" fill="#060e24"/>
<rect x="323.40" y="153.16" width="19.60" height="2.90" fill="#b5b0f0"/>
<rect x="205.80" y="157.84" width="19.60" height="2.90" fill="#9fd4d0"/>
<rect x="225.40" y="157.84" width="19.60" height="2.90" fill="#b5b0f0"/>
<rect x="205.80" y="162.51" width="9.80" height="2.90" fill="#80318f"/>
<rect x="215.60" y="162.51" width="9.80" height="2.90" fill="#524cb4"/>
<rect x="225.40" y="162.51" width="9.80" height="2.90" fill="#9fd4d0"/>
<rect x="235.20" y="162.51" width="9.80" height="2.90" fill="#2e7c66"/>
<rect x="245.00" y="162.51" width="9.80" height="2.90" fill="#b5b0f0"/>
<rect x="205.80" y="167.18" width="29.40" height="2.90" fill="#80318f"/>
<rect x="205.80" y="171.86" width="19.60" height="2.90" fill="#80318f"/>
<rect x="225.40" y="171.86" width="19.60" height="2.90" fill="#524cb4"/>
<rect x="245.00" y="171.86" width="19.60" height="2.90" fill="#9fd4d0"/>
<rect x="264.60" y="171.86" width="19.60" height="2.90" fill="#2e7c66"/>
<rect x="284.20" y="171.86" width="29.40" height="2.90" fill="#74a63a"/>
<rect x="313.60" y="171.86" width="29.40" height="2.90" fill="#060e24"/>
<rect x="343.00" y="171.86" width="29.40" height="2.90" fill="#b5b0f0"/>
<text x="204.30" y="94.80" font-size="2.7" text-anchor="end" fill="#3c3c3c" font-weight="normal">Q151M + M184V</text>
<text x="204.30" y="99.47" font-size="2.7" text-anchor="end" fill="#3c3c3c" font-weight="normal">L210W + T215ACDEILNSV</text>
<text x="204.30" y="104.15" font-size="2.7" text-anchor="end" fill="#3c3c3c" font-weight="normal">L210W + T215FY</text>
<text x="204.30" y="108.82" font-size="2.7" text-anchor="end" fill="#3c3c3c" font-weight="normal">E40F + M41L + L210W + T215FY</text>
<text x="204.30" y="113.50" font-size="2.7" text-anchor="end" fill="#3c3c3c" font-weight="normal">M41L + L210W</text>
<text x="204.30" y="118.17" font-size="2.7" text-anchor="end" fill="#3c3c3c" font-weight="normal">M41L + L210W + T215FY</text>
<text x="204.30" y="122.84" font-size="2.7" text-anchor="end" fill="#3c3c3c" font-weight="normal">M41L + T215ACDEILNSV</text>
<text x="204.30" y="127.52" font-size="2.7" text-anchor="end" fill="#3c3c3c" font-weight="normal">M41L + T215FY</text>
<text x="204.30" y="132.19" font-size="2.7" text-anchor="end" fill="#3c3c3c" font-weight="normal">M41L + E44AD + L210W + T215FY</text>
<text x="204.30" y="136.87" font-size="2.7" text-anchor="end" fill="#3c3c3c" font-weight="normal">M41L + D67EGN + T215FY</text>
<text x="204.30" y="141.54" font-size="2.7" text-anchor="end" fill="#3c3c3c" font-weight="normal">K65R + Q151M</text>
<text x="204.30" y="146.21" font-size="2.7" text-anchor="end" fill="#3c3c3c" font-weight="normal">D67EGN + T215FY + K219ENQR</text>
<text x="204.30" y="150.89" font-size="2.7" text-anchor="end" fill="#3c3c3c" font-weight="normal">D67EGN + K70R + M184IV + K219ENQR</text>
<text x="204.30" y="155.56" font-size="2.7" text-anchor="end" fill="#3c3c3c" font-weight="normal">D67EGN + K70R + K219ENQR</text>
<text x="204.30" y="160.24" font-size="2.7" text-anchor="end" fill="#3c3c3c" font-weight="normal">K70EGNQST + M184IV</text>
<text x="204.30" y="164.91" font-size="2.7" text-anchor="end" fill="#3c3c3c" font-weight="normal">A62V + T215FY</text>
<text x="204.30" y="169.58" font-size="2.7" text-anchor="end" fill="#3c3c3c" font-weight="normal">L74IV + M184IV</text>
<text x="204.30" y="174.26" font-size="2.7" text-anchor="end" fill="#3c3c3c" font-weight="normal">F77L + F116Y + Q151M</text>
<text x="148.10" y="77.45" font-size="4.49" text-anchor="start" fill="#222" font-weight="normal">NRTI Resistance Mutation Combination Scores</text>
<text x="304.20" y="187.90" font-size="2.6" text-anchor="middle" fill="#555" font-weight="normal">Occurrence</text>
<text x="150.80" y="135.40" font-size="2.8" text-anchor="middle" fill="#555" font-weight="normal" transform="rotate(-90 150.80 135.40)">Mutation Combination</text>
<text x="143.50" y="191.90" font-size="5.9" text-anchor="start" fill="#111" font-weight="bold">B</text>
<rect x="202.20" y="83.35" width="2.50" height="2.50" fill="#80318f"/>
<text x="205.90" y="85.55" font-size="2.78" text-anchor="start" fill="#484848" font-weight="normal">Abacavir</text>
<rect x="221.30" y="83.35" width="2.50" height="2.50" fill="#524cb4"/>
<text x="225.50" y="85.55" font-size="2.78" text-anchor="start" fill="#484848" font-weight="normal">Zidovudine</text>
<rect x="243.70" y="83.35" width="2.50" height="2.50" fill="#9fd4d0"/>
<text x="247.60" y="85.55" font-size="2.78" text-anchor="start" fill="#484848" font-weight="normal">Stavudine</text>
<rect x="263.90" y="83.35" width="2.50" height="2.50" fill="#2e7c66"/>
<text x="267.80" y="85.55" font-size="2.78" text-anchor="start" fill="#484848" font-weight="normal">Didanosine</text>
<rect x="286.20" y="83.35" width="2.50" height="2.50" fill="#74a63a"/>
<text x="289.80" y="85.55" font-size="2.78" text-anchor="start" fill="#484848" font-weight="normal">Emtricitabine</text>
<rect x="310.00" y="83.35" width="2.50" height="2.50" fill="#060e24"/>
<text x="314.20" y="85.55" font-size="2.78" text-anchor="start" fill="#484848" font-weight="normal">Lamivudine</text>
<rect x="333.20" y="83.35" width="2.50" height="2.50" fill="#b5b0f0"/>
<text x="337.40" y="85.55" font-size="2.78" text-anchor="start" fill="#484848" font-weight="normal">Tenofovir</text>
<line x1="141.30" y1="194.40" x2="389.00" y2="194.40" stroke="#e4e4e4" stroke-width="0.5"/>
<line x1="28.46" y1="300.30" x2="28.46" y2="528.50" stroke="#e8e8e8" stroke-width="0.5"/>
<line x1="40.02" y1="300.30" x2="40.02" y2="528.50" stroke="#e8e8e8" stroke-width="0.5"/>
<line x1="51.57" y1="300.30" x2="51.57" y2="528.50" stroke="#e8e8e8" stroke-width="0.5"/>
<line x1="63.13" y1="300.30" x2="63.13" y2="528.50" stroke="#e8e8e8" stroke-width="0.5"/>
<line x1="74.69" y1="300.30" x2="74.69" y2="528.50" stroke="#e8e8e8" stroke-width="0.5"/>
<line x1="86.24" y1="300.30" x2="86.24" y2="528.50" stroke="#e8e8e8" stroke-width="0.5"/>
<line x1="97.80" y1="300.30" x2="97.80" y2="528.50" stroke="#e8e8e8" stroke-width="0.5"/>
<line x1="109.36" y1="300.30" x2="109.36" y2="528.50" stroke="#e8e8e8" stroke-width="0.5"/>
<line x1="120.91" y1="300.30" x2="120.91" y2="528.50" stroke="#e8e8e8" stroke-width="0.5"/>
<line x1="132.47" y1="300.30" x2="132.47" y2="528.50" stroke="#e8e8e8" stroke-width="0.5"/>
<text x="28.46" y="532.80" font-size="2.9" text-anchor="middle" fill="#3a3a3a" font-weight="normal">0</text>
<text x="63.13" y="532.80" font-size="2.9" text-anchor="middle" fill="#3a3a3a" font-weight="normal">100</text>
<text x="97.80" y="532.80" font-size="2.9" text-anchor="middle" fill="#3a3a3a" font-weight="normal">200</text>
<text x="132.47" y="532.80" font-size="2.9" text-anchor="middle" fill="#3a3a3a" font-weight="normal">300</text>
<rect x="28.46" y="301.75" width="5.20" height="2.30" fill="#170a24"/>
<rect x="33.66" y="301.75" width="5.20" height="2.30" fill="#3d4993"/>
<rect x="38.86" y="301.75" width="3.47" height="2.30" fill="#cb58b3"/>
<rect x="42.33" y="301.75" width="10.40" height="2.30" fill="#b4b4f0"/>
<rect x="52.73" y="301.75" width="5.20" height="2.30" fill="#d5a4df"/>
<rect x="28.46" y="305.96" width="5.20" height="2.30" fill="#170a24"/>
<rect x="33.66" y="305.96" width="20.80" height="2.30" fill="#3d4993"/>
<rect x="54.46" y="305.96" width="10.40" height="2.30" fill="#cb58b3"/>
<rect x="64.86" y="305.96" width="20.80" height="2.30" fill="#b4b4f0"/>
<rect x="85.67" y="305.96" width="20.80" height="2.30" fill="#d5a4df"/>
<rect x="28.46" y="310.17" width="3.47" height="2.30" fill="#170a24"/>
<rect x="31.93" y="310.17" width="10.40" height="2.30" fill="#3d4993"/>
<rect x="42.33" y="310.17" width="3.47" height="2.30" fill="#cb58b3"/>
<rect x="45.80" y="310.17" width="10.40" height="2.30" fill="#b4b4f0"/>
<rect x="56.20" y="310.17" width="5.20" height="2.30" fill="#d5a4df"/>
<rect x="28.46" y="314.37" width="5.20" height="2.30" fill="#170a24"/>
<rect x="33.66" y="314.37" width="5.20" height="2.30" fill="#3d4993"/>
<rect x="38.86" y="314.37" width="5.20" height="2.30" fill="#cb58b3"/>
<rect x="44.06" y="314.37" width="10.40" height="2.30" fill="#b4b4f0"/>
<rect x="54.46" y="314.37" width="15.60" height="2.30" fill="#d5a4df"/>
<rect x="28.46" y="318.58" width="3.47" height="2.30" fill="#3d4993"/>
<rect x="31.93" y="318.58" width="3.47" height="2.30" fill="#cb58b3"/>
<rect x="35.39" y="318.58" width="5.20" height="2.30" fill="#b4b4f0"/>
<rect x="40.59" y="318.58" width="3.47" height="2.30" fill="#d5a4df"/>
<rect x="28.46" y="322.79" width="3.47" height="2.30" fill="#170a24"/>
<rect x="31.93" y="322.79" width="20.80" height="2.30" fill="#3d4993"/>
<rect x="52.73" y="322.79" width="20.80" height="2.30" fill="#cb58b3"/>
<rect x="73.53" y="322.79" width="20.80" height="2.30" fill="#b4b4f0"/>
<rect x="94.33" y="322.79" width="20.80" height="2.30" fill="#d5a4df"/>
<rect x="28.46" y="327.00" width="20.80" height="2.30" fill="#3d4993"/>
<rect x="49.26" y="327.00" width="20.80" height="2.30" fill="#b4b4f0"/>
<rect x="28.46" y="331.21" width="20.80" height="2.30" fill="#3d4993"/>
<rect x="49.26" y="331.21" width="20.80" height="2.30" fill="#b4b4f0"/>
<rect x="28.46" y="335.41" width="15.60" height="2.30" fill="#3d4993"/>
<rect x="44.06" y="335.41" width="20.80" height="2.30" fill="#b4b4f0"/>
<rect x="28.46" y="339.62" width="5.20" height="2.30" fill="#3d4993"/>
<rect x="33.66" y="339.62" width="20.80" height="2.30" fill="#b4b4f0"/>
<rect x="28.46" y="343.83" width="20.80" height="2.30" fill="#170a24"/>
<rect x="49.26" y="343.83" width="15.60" height="2.30" fill="#3d4993"/>
<rect x="64.86" y="343.83" width="20.80" height="2.30" fill="#b4b4f0"/>
<rect x="28.46" y="348.04" width="3.47" height="2.30" fill="#170a24"/>
<rect x="31.93" y="348.04" width="3.47" height="2.30" fill="#cb58b3"/>
<rect x="35.39" y="348.04" width="3.47" height="2.30" fill="#b4b4f0"/>
<rect x="38.86" y="348.04" width="3.47" height="2.30" fill="#d5a4df"/>
<rect x="28.46" y="352.25" width="17.34" height="2.30" fill="#170a24"/>
<rect x="45.80" y="352.25" width="20.80" height="2.30" fill="#3d4993"/>
<rect x="66.60" y="352.25" width="20.80" height="2.30" fill="#b4b4f0"/>
<rect x="28.46" y="356.45" width="5.20" height="2.30" fill="#170a24"/>
<rect x="33.66" y="356.45" width="3.47" height="2.30" fill="#3d4993"/>
<rect x="37.13" y="356.45" width="5.20" height="2.30" fill="#b4b4f0"/>
<rect x="28.46" y="360.66" width="3.47" height="2.30" fill="#cb58b3"/>
<rect x="31.93" y="360.66" width="5.20" height="2.30" fill="#d5a4df"/>
<rect x="28.46" y="364.87" width="3.47" height="2.30" fill="#3d4993"/>
<rect x="31.93" y="364.87" width="3.47" height="2.30" fill="#cb58b3"/>
<rect x="35.39" y="364.87" width="3.47" height="2.30" fill="#b4b4f0"/>
<rect x="38.86" y="364.87" width="5.20" height="2.30" fill="#d5a4df"/>
<rect x="28.46" y="369.08" width="3.47" height="2.30" fill="#170a24"/>
<rect x="31.93" y="369.08" width="3.47" height="2.30" fill="#3d4993"/>
<rect x="35.39" y="369.08" width="3.47" height="2.30" fill="#cb58b3"/>
<rect x="38.86" y="369.08" width="3.47" height="2.30" fill="#b4b4f0"/>
<rect x="42.33" y="369.08" width="15.60" height="2.30" fill="#d5a4df"/>
<rect x="28.46" y="373.29" width="3.47" height="2.30" fill="#3d4993"/>
<rect x="31.93" y="373.29" width="3.47" height="2.30" fill="#cb58b3"/>
<rect x="35.39" y="373.29" width="3.47" height="2.30" fill="#b4b4f0"/>
<rect x="38.86" y="373.29" width="5.20" height="2.30" fill="#d5a4df"/>
<rect x="28.46" y="377.49" width="3.47" height="2.30" fill="#3d4993"/>
<rect x="31.93" y="377.49" width="3.47" height="2.30" fill="#cb58b3"/>
<rect x="35.39" y="377.49" width="3.47" height="2.30" fill="#b4b4f0"/>
<rect x="38.86" y="377.49" width="5.20" height="2.30" fill="#d5a4df"/>
<rect x="28.46" y="381.70" width="3.47" height="2.30" fill="#3d4993"/>
<rect x="31.93" y="381.70" width="3.47" height="2.30" fill="#cb58b3"/>
<rect x="35.39" y="381.70" width="3.47" height="2.30" fill="#b4b4f0"/>
<rect x="38.86" y="381.70" width="3.47" height="2.30" fill="#d5a4df"/>
<rect x="28.46" y="385.91" width="3.47" height="2.30" fill="#3d4993"/>
<rect x="31.93" y="385.91" width="3.47" height="2.30" fill="#cb58b3"/>
<rect x="35.39" y="385.91" width="3.47" height="2.30" fill="#b4b4f0"/>
<rect x="38.86" y="385.91" width="3.47" height="2.30" fill="#d5a4df"/>
<rect x="28.46" y="390.12" width="3.47" height="2.30" fill="#170a24"/>
<rect x="31.93" y="390.12" width="3.47" height="2.30" fill="#3d4993"/>
<rect x="35.39" y="390.12" width="5.20" height="2.30" fill="#cb58b3"/>
<rect x="40.59" y="390.12" width="5.20" height="2.30" fill="#b4b4f0"/>
<rect x="45.80" y="390.12" width="5.20" height="2.30" fill="#d5a4df"/>
<rect x="28.46" y="394.33" width="3.47" height="2.30" fill="#3d4993"/>
<rect x="31.93" y="394.33" width="3.47" height="2.30" fill="#cb58b3"/>
<rect x="35.39" y="394.33" width="3.47" height="2.30" fill="#b4b4f0"/>
<rect x="38.86" y="394.33" width="5.20" height="2.30" fill="#d5a4df"/>
<rect x="28.46" y="398.53" width="3.47" height="2.30" fill="#170a24"/>
<rect x="31.93" y="398.53" width="10.40" height="2.30" fill="#3d4993"/>
<rect x="42.33" y="398.53" width="10.40" height="2.30" fill="#cb58b3"/>
<rect x="52.73" y="398.53" width="20.80" height="2.30" fill="#b4b4f0"/>
<rect x="73.53" y="398.53" width="15.60" height="2.30" fill="#d5a4df"/>
<rect x="28.46" y="402.74" width="5.20" height="2.30" fill="#3d4993"/>
<rect x="33.66" y="402.74" width="5.20" height="2.30" fill="#cb58b3"/>
<rect x="38.86" y="402.74" width="20.80" height="2.30" fill="#b4b4f0"/>
<rect x="59.66" y="402.74" width="10.40" height="2.30" fill="#d5a4df"/>
<rect x="28.46" y="406.95" width="5.20" height="2.30" fill="#3d4993"/>
<rect x="33.66" y="406.95" width="5.20" height="2.30" fill="#cb58b3"/>
<rect x="38.86" y="406.95" width="20.80" height="2.30" fill="#b4b4f0"/>
<rect x="59.66" y="406.95" width="10.40" height="2.30" fill="#d5a4df"/>
<rect x="28.46" y="411.16" width="6.93" height="2.30" fill="#170a24"/>
<rect x="35.39" y="411.16" width="10.40" height="2.30" fill="#3d4993"/>
<rect x="45.80" y="411.16" width="20.80" height="2.30" fill="#cb58b3"/>
<rect x="66.60" y="411.16" width="20.80" height="2.30" fill="#b4b4f0"/>
<rect x="87.40" y="411.16" width="20.80" height="2.30" fill="#d5a4df"/>
<rect x="28.46" y="415.37" width="5.20" height="2.30" fill="#3d4993"/>
<rect x="33.66" y="415.37" width="5.20" height="2.30" fill="#cb58b3"/>
<rect x="38.86" y="415.37" width="20.80" height="2.30" fill="#b4b4f0"/>
<rect x="59.66" y="415.37" width="10.40" height="2.30" fill="#d5a4df"/>
<rect x="28.46" y="419.57" width="6.93" height="2.30" fill="#170a24"/>
<rect x="35.39" y="419.57" width="10.40" height="2.30" fill="#3d4993"/>
<rect x="45.80" y="419.57" width="20.80" height="2.30" fill="#cb58b3"/>
<rect x="66.60" y="419.57" width="20.80" height="2.30" fill="#b4b4f0"/>
<rect x="87.40" y="419.57" width="20.80" height="2.30" fill="#d5a4df"/>
<rect x="28.46" y="423.78" width="3.47" height="2.30" fill="#170a24"/>
<rect x="31.93" y="423.78" width="20.80" height="2.30" fill="#3d4993"/>
<rect x="52.73" y="423.78" width="20.80" height="2.30" fill="#b4b4f0"/>
<rect x="28.46" y="427.99" width="10.40" height="2.30" fill="#170a24"/>
<rect x="38.86" y="427.99" width="20.80" height="2.30" fill="#3d4993"/>
<rect x="59.66" y="427.99" width="20.80" height="2.30" fill="#b4b4f0"/>
<rect x="80.47" y="427.99" width="10.40" height="2.30" fill="#d5a4df"/>
<rect x="28.46" y="432.20" width="3.47" height="2.30" fill="#170a24"/>
<rect x="31.93" y="432.20" width="10.40" height="2.30" fill="#3d4993"/>
<rect x="42.33" y="432.20" width="20.80" height="2.30" fill="#b4b4f0"/>
<rect x="28.46" y="436.41" width="20.80" height="2.30" fill="#170a24"/>
<rect x="49.26" y="436.41" width="20.80" height="2.30" fill="#3d4993"/>
<rect x="70.06" y="436.41" width="3.47" height="2.30" fill="#cb58b3"/>
<rect x="73.53" y="436.41" width="20.80" height="2.30" fill="#b4b4f0"/>
<rect x="94.33" y="436.41" width="20.80" height="2.30" fill="#d5a4df"/>
<rect x="28.46" y="440.61" width="15.60" height="2.30" fill="#3d4993"/>
<rect x="44.06" y="440.61" width="3.47" height="2.30" fill="#cb58b3"/>
<rect x="47.53" y="440.61" width="20.80" height="2.30" fill="#b4b4f0"/>
<rect x="68.33" y="440.61" width="5.20" height="2.30" fill="#d5a4df"/>
<rect x="28.46" y="444.82" width="3.47" height="2.30" fill="#170a24"/>
<rect x="31.93" y="444.82" width="20.80" height="2.30" fill="#3d4993"/>
<rect x="52.73" y="444.82" width="3.47" height="2.30" fill="#cb58b3"/>
<rect x="56.20" y="444.82" width="20.80" height="2.30" fill="#b4b4f0"/>
<rect x="77.00" y="444.82" width="3.47" height="2.30" fill="#d5a4df"/>
<rect x="28.46" y="449.03" width="20.80" height="2.30" fill="#170a24"/>
<rect x="49.26" y="449.03" width="20.80" height="2.30" fill="#3d4993"/>
<rect x="70.06" y="449.03" width="15.60" height="2.30" fill="#cb58b3"/>
<rect x="85.67" y="449.03" width="20.80" height="2.30" fill="#b4b4f0"/>
<rect x="106.47" y="449.03" width="20.80" height="2.30" fill="#d5a4df"/>
<rect x="28.46" y="453.24" width="10.40" height="2.30" fill="#170a24"/>
<rect x="38.86" y="453.24" width="20.80" height="2.30" fill="#3d4993"/>
<rect x="59.66" y="453.24" width="15.60" height="2.30" fill="#cb58b3"/>
<rect x="75.26" y="453.24" width="20.80" height="2.30" fill="#b4b4f0"/>
<rect x="96.07" y="453.24" width="15.60" height="2.30" fill="#d5a4df"/>
<rect x="28.46" y="457.45" width="10.40" height="2.30" fill="#170a24"/>
<rect x="38.86" y="457.45" width="20.80" height="2.30" fill="#3d4993"/>
<rect x="59.66" y="457.45" width="3.47" height="2.30" fill="#cb58b3"/>
<rect x="63.13" y="457.45" width="20.80" height="2.30" fill="#b4b4f0"/>
<rect x="83.93" y="457.45" width="5.20" height="2.30" fill="#d5a4df"/>
<rect x="28.46" y="461.65" width="3.47" height="2.30" fill="#170a24"/>
<rect x="31.93" y="461.65" width="20.80" height="2.30" fill="#3d4993"/>
<rect x="52.73" y="461.65" width="3.47" height="2.30" fill="#cb58b3"/>
<rect x="56.20" y="461.65" width="20.80" height="2.30" fill="#b4b4f0"/>
<rect x="77.00" y="461.65" width="3.47" height="2.30" fill="#d5a4df"/>
<rect x="28.46" y="465.86" width="3.47" height="2.30" fill="#170a24"/>
<rect x="31.93" y="465.86" width="20.80" height="2.30" fill="#3d4993"/>
<rect x="52.73" y="465.86" width="3.47" height="2.30" fill="#cb58b3"/>
<rect x="56.20" y="465.86" width="20.80" height="2.30" fill="#b4b4f0"/>
<rect x="77.00" y="465.86" width="3.47" height="2.30" fill="#d5a4df"/>
<rect x="28.46" y="470.07" width="5.20" height="2.30" fill="#170a24"/>
<rect x="33.66" y="470.07" width="3.47" height="2.30" fill="#3d4993"/>
<rect x="37.13" y="470.07" width="3.47" height="2.30" fill="#cb58b3"/>
<rect x="40.59" y="470.07" width="5.20" height="2.30" fill="#b4b4f0"/>
<rect x="45.80" y="470.07" width="5.20" height="2.30" fill="#d5a4df"/>
<rect x="28.46" y="474.28" width="10.40" height="2.30" fill="#170a24"/>
<rect x="38.86" y="474.28" width="15.60" height="2.30" fill="#3d4993"/>
<rect x="54.46" y="474.28" width="15.60" height="2.30" fill="#b4b4f0"/>
<rect x="28.46" y="478.49" width="20.80" height="2.30" fill="#170a24"/>
<rect x="49.26" y="478.49" width="15.60" height="2.30" fill="#3d4993"/>
<rect x="64.86" y="478.49" width="10.40" height="2.30" fill="#cb58b3"/>
<rect x="75.26" y="478.49" width="15.60" height="2.30" fill="#b4b4f0"/>
<rect x="90.87" y="478.49" width="15.60" height="2.30" fill="#d5a4df"/>
<rect x="28.46" y="482.69" width="17.34" height="2.30" fill="#170a24"/>
<rect x="45.80" y="482.69" width="3.47" height="2.30" fill="#3d4993"/>
<rect x="49.26" y="482.69" width="10.40" height="2.30" fill="#b4b4f0"/>
<rect x="28.46" y="486.90" width="17.34" height="2.30" fill="#170a24"/>
<rect x="45.80" y="486.90" width="5.20" height="2.30" fill="#3d4993"/>
<rect x="51.00" y="486.90" width="10.40" height="2.30" fill="#b4b4f0"/>
<rect x="28.46" y="491.11" width="17.34" height="2.30" fill="#170a24"/>
<rect x="45.80" y="491.11" width="3.47" height="2.30" fill="#3d4993"/>
<rect x="49.26" y="491.11" width="10.40" height="2.30" fill="#b4b4f0"/>
<rect x="28.46" y="495.32" width="5.20" height="2.30" fill="#170a24"/>
<rect x="33.66" y="495.32" width="5.20" height="2.30" fill="#3d4993"/>
<rect x="38.86" y="495.32" width="5.20" height="2.30" fill="#cb58b3"/>
<rect x="44.06" y="495.32" width="10.40" height="2.30" fill="#b4b4f0"/>
<rect x="54.46" y="495.32" width="10.40" height="2.30" fill="#d5a4df"/>
<rect x="28.46" y="499.53" width="20.80" height="2.30" fill="#170a24"/>
<rect x="49.26" y="499.53" width="15.60" height="2.30" fill="#3d4993"/>
<rect x="64.86" y="499.53" width="10.40" height="2.30" fill="#cb58b3"/>
<rect x="75.26" y="499.53" width="20.80" height="2.30" fill="#b4b4f0"/>
<rect x="96.07" y="499.53" width="20.80" height="2.30" fill="#d5a4df"/>
<rect x="28.46" y="503.73" width="10.40" height="2.30" fill="#170a24"/>
<rect x="28.46" y="507.94" width="5.20" height="2.30" fill="#170a24"/>
<rect x="28.46" y="512.15" width="3.47" height="2.30" fill="#3d4993"/>
<rect x="31.93" y="512.15" width="3.47" height="2.30" fill="#b4b4f0"/>
<rect x="28.46" y="516.36" width="10.40" height="2.30" fill="#3d4993"/>
<rect x="38.86" y="516.36" width="10.40" height="2.30" fill="#b4b4f0"/>
<rect x="28.46" y="520.57" width="10.40" height="2.30" fill="#170a24"/>
<rect x="38.86" y="520.57" width="3.47" height="2.30" fill="#3d4993"/>
<rect x="42.33" y="520.57" width="10.40" height="2.30" fill="#b4b4f0"/>
<rect x="28.46" y="524.77" width="5.20" height="2.30" fill="#b4b4f0"/>
<text x="27.00" y="304.02" font-size="3.3" text-anchor="end" fill="#2a2a2a" font-weight="normal" stroke="#2a2a2a" stroke-width="0.05">A98G</text>
<text x="27.00" y="308.23" font-size="3.3" text-anchor="end" fill="#2a2a2a" font-weight="normal" stroke="#2a2a2a" stroke-width="0.05">L100I</text>
<text x="27.00" y="312.44" font-size="3.3" text-anchor="end" fill="#2a2a2a" font-weight="normal" stroke="#2a2a2a" stroke-width="0.05">L100V</text>
<text x="27.00" y="316.64" font-size="3.3" text-anchor="end" fill="#2a2a2a" font-weight="normal" stroke="#2a2a2a" stroke-width="0.05">K101E</text>
<text x="27.00" y="320.85" font-size="3.3" text-anchor="end" fill="#2a2a2a" font-weight="normal" stroke="#2a2a2a" stroke-width="0.05">K101H</text>
<text x="27.00" y="325.06" font-size="3.3" text-anchor="end" fill="#2a2a2a" font-weight="normal" stroke="#2a2a2a" stroke-width="0.05">K101P</text>
<text x="27.00" y="329.27" font-size="3.3" text-anchor="end" fill="#2a2a2a" font-weight="normal" stroke="#2a2a2a" stroke-width="0.05">K103H</text>
<text x="27.00" y="333.48" font-size="3.3" text-anchor="end" fill="#2a2a2a" font-weight="normal" stroke="#2a2a2a" stroke-width="0.05">K103N</text>
<text x="27.00" y="337.68" font-size="3.3" text-anchor="end" fill="#2a2a2a" font-weight="normal" stroke="#2a2a2a" stroke-width="0.05">K103S</text>
<text x="27.00" y="341.89" font-size="3.3" text-anchor="end" fill="#2a2a2a" font-weight="normal" stroke="#2a2a2a" stroke-width="0.05">K103T</text>
<text x="27.00" y="346.10" font-size="3.3" text-anchor="end" fill="#2a2a2a" font-weight="normal" stroke="#2a2a2a" stroke-width="0.05">V106A</text>
<text x="27.00" y="350.31" font-size="3.3" text-anchor="end" fill="#2a2a2a" font-weight="normal" stroke="#2a2a2a" stroke-width="0.05">V106I</text>
<text x="27.00" y="354.52" font-size="3.3" text-anchor="end" fill="#2a2a2a" font-weight="normal" stroke="#2a2a2a" stroke-width="0.05">V106M</text>
<text x="27.00" y="358.72" font-size="3.3" text-anchor="end" fill="#2a2a2a" font-weight="normal" stroke="#2a2a2a" stroke-width="0.05">V108I</text>
<text x="27.00" y="362.93" font-size="3.3" text-anchor="end" fill="#2a2a2a" font-weight="normal" stroke="#2a2a2a" stroke-width="0.05">E138A</text>
<text x="27.00" y="367.14" font-size="3.3" text-anchor="end" fill="#2a2a2a" font-weight="normal" stroke="#2a2a2a" stroke-width="0.05">E138G</text>
<text x="27.00" y="371.35" font-size="3.3" text-anchor="end" fill="#2a2a2a" font-weight="normal" stroke="#2a2a2a" stroke-width="0.05">E138K</text>
<text x="27.00" y="375.56" font-size="3.3" text-anchor="end" fill="#2a2a2a" font-weight="normal" stroke="#2a2a2a" stroke-width="0.05">E138Q</text>
<text x="27.00" y="379.76" font-size="3.3" text-anchor="end" fill="#2a2a2a" font-weight="normal" stroke="#2a2a2a" stroke-width="0.05">E138R</text>
<text x="27.00" y="383.97" font-size="3.3" text-anchor="end" fill="#2a2a2a" font-weight="normal" stroke="#2a2a2a" stroke-width="0.05">V179D</text>
<text x="27.00" y="388.18" font-size="3.3" text-anchor="end" fill="#2a2a2a" font-weight="normal" stroke="#2a2a2a" stroke-width="0.05">V179E</text>
<text x="27.00" y="392.39" font-size="3.3" text-anchor="end" fill="#2a2a2a" font-weight="normal" stroke="#2a2a2a" stroke-width="0.05">V179F</text>
<text x="27.00" y="396.60" font-size="3.3" text-anchor="end" fill="#2a2a2a" font-weight="normal" stroke="#2a2a2a" stroke-width="0.05">V179L</text>
<text x="27.00" y="400.80" font-size="3.3" text-anchor="end" fill="#2a2a2a" font-weight="normal" stroke="#2a2a2a" stroke-width="0.05">Y181C</text>
<text x="27.00" y="405.01" font-size="3.3" text-anchor="end" fill="#2a2a2a" font-weight="normal" stroke="#2a2a2a" stroke-width="0.05">Y181F</text>
<text x="27.00" y="409.22" font-size="3.3" text-anchor="end" fill="#2a2a2a" font-weight="normal" stroke="#2a2a2a" stroke-width="0.05">Y181G</text>
<text x="27.00" y="413.43" font-size="3.3" text-anchor="end" fill="#2a2a2a" font-weight="normal" stroke="#2a2a2a" stroke-width="0.05">Y181I</text>
<text x="27.00" y="417.64" font-size="3.3" text-anchor="end" fill="#2a2a2a" font-weight="normal" stroke="#2a2a2a" stroke-width="0.05">Y181S</text>
<text x="27.00" y="421.84" font-size="3.3" text-anchor="end" fill="#2a2a2a" font-weight="normal" stroke="#2a2a2a" stroke-width="0.05">Y181V</text>
<text x="27.00" y="426.05" font-size="3.3" text-anchor="end" fill="#2a2a2a" font-weight="normal" stroke="#2a2a2a" stroke-width="0.05">Y188C</text>
<text x="27.00" y="430.26" font-size="3.3" text-anchor="end" fill="#2a2a2a" font-weight="normal" stroke="#2a2a2a" stroke-width="0.05">Y188F</text>
<text x="27.00" y="434.47" font-size="3.3" text-anchor="end" fill="#2a2a2a" font-weight="normal" stroke="#2a2a2a" stroke-width="0.05">Y188H</text>
<text x="27.00" y="438.68" font-size="3.3" text-anchor="end" fill="#2a2a2a" font-weight="normal" stroke="#2a2a2a" stroke-width="0.05">Y188L</text>
<text x="27.00" y="442.88" font-size="3.3" text-anchor="end" fill="#2a2a2a" font-weight="normal" stroke="#2a2a2a" stroke-width="0.05">G190A</text>
<text x="27.00" y="447.09" font-size="3.3" text-anchor="end" fill="#2a2a2a" font-weight="normal" stroke="#2a2a2a" stroke-width="0.05">G190C</text>
<text x="27.00" y="451.30" font-size="3.3" text-anchor="end" fill="#2a2a2a" font-weight="normal" stroke="#2a2a2a" stroke-width="0.05">G190E</text>
<text x="27.00" y="455.51" font-size="3.3" text-anchor="end" fill="#2a2a2a" font-weight="normal" stroke="#2a2a2a" stroke-width="0.05">G190Q</text>
<text x="27.00" y="459.72" font-size="3.3" text-anchor="end" fill="#2a2a2a" font-weight="normal" stroke="#2a2a2a" stroke-width="0.05">G190S</text>
<text x="27.00" y="463.92" font-size="3.3" text-anchor="end" fill="#2a2a2a" font-weight="normal" stroke="#2a2a2a" stroke-width="0.05">G190T</text>
<text x="27.00" y="468.13" font-size="3.3" text-anchor="end" fill="#2a2a2a" font-weight="normal" stroke="#2a2a2a" stroke-width="0.05">G190V</text>
<text x="27.00" y="472.34" font-size="3.3" text-anchor="end" fill="#2a2a2a" font-weight="normal" stroke="#2a2a2a" stroke-width="0.05">H221Y</text>
<text x="27.00" y="476.55" font-size="3.3" text-anchor="end" fill="#2a2a2a" font-weight="normal" stroke="#2a2a2a" stroke-width="0.05">P225H</text>
<text x="27.00" y="480.76" font-size="3.3" text-anchor="end" fill="#2a2a2a" font-weight="normal" stroke="#2a2a2a" stroke-width="0.05">F227C</text>
<text x="27.00" y="484.96" font-size="3.3" text-anchor="end" fill="#2a2a2a" font-weight="normal" stroke="#2a2a2a" stroke-width="0.05">F227I</text>
<text x="27.00" y="489.17" font-size="3.3" text-anchor="end" fill="#2a2a2a" font-weight="normal" stroke="#2a2a2a" stroke-width="0.05">F227L</text>
<text x="27.00" y="493.38" font-size="3.3" text-anchor="end" fill="#2a2a2a" font-weight="normal" stroke="#2a2a2a" stroke-width="0.05">F227V</text>
<text x="27.00" y="497.59" font-size="3.3" text-anchor="end" fill="#2a2a2a" font-weight="normal" stroke="#2a2a2a" stroke-width="0.05">M230I</text>
<text x="27.00" y="501.80" font-size="3.3" text-anchor="end" fill="#2a2a2a" font-weight="normal" stroke="#2a2a2a" stroke-width="0.05">M230L</text>
<text x="27.00" y="506.00" font-size="3.3" text-anchor="end" fill="#2a2a2a" font-weight="normal" stroke="#2a2a2a" stroke-width="0.05">L234I</text>
<text x="27.00" y="510.21" font-size="3.3" text-anchor="end" fill="#2a2a2a" font-weight="normal" stroke="#2a2a2a" stroke-width="0.05">P236L</text>
<text x="27.00" y="514.42" font-size="3.3" text-anchor="end" fill="#2a2a2a" font-weight="normal" stroke="#2a2a2a" stroke-width="0.05">K238N</text>
<text x="27.00" y="518.63" font-size="3.3" text-anchor="end" fill="#2a2a2a" font-weight="normal" stroke="#2a2a2a" stroke-width="0.05">K238T</text>
<text x="27.00" y="522.84" font-size="3.3" text-anchor="end" fill="#2a2a2a" font-weight="normal" stroke="#2a2a2a" stroke-width="0.05">Y318F</text>
<text x="27.00" y="527.04" font-size="3.3" text-anchor="end" fill="#2a2a2a" font-weight="normal" stroke="#2a2a2a" stroke-width="0.05">N348I</text>
<text x="8.20" y="285.35" font-size="5.2" text-anchor="start" fill="#222" font-weight="normal" stroke="#222" stroke-width="0.05">NNRTI Resistance Mutation Scores</text>
<text x="80.40" y="541.70" font-size="3.0" text-anchor="middle" fill="#505050" font-weight="normal">Occurrence</text>
<text x="10.90" y="417.40" font-size="3.0" text-anchor="middle" fill="#555" font-weight="normal" transform="rotate(-90 10.90 417.40)">Mutations</text>
<text x="2.85" y="544.10" font-size="6.0" text-anchor="start" fill="#111" font-weight="bold">C</text>
<rect x="13.40" y="292.30" width="2.60" height="2.60" fill="#170a24"/>
<text x="18.10" y="294.75" font-size="3.27" text-anchor="start" fill="#444" font-weight="normal">Doravirine</text>
<rect x="37.40" y="292.30" width="2.60" height="2.60" fill="#3d4993"/>
<text x="42.20" y="294.75" font-size="3.27" text-anchor="start" fill="#444" font-weight="normal">Efavirenz</text>
<rect x="60.00" y="292.30" width="2.60" height="2.60" fill="#cb58b3"/>
<text x="64.70" y="294.75" font-size="3.27" text-anchor="start" fill="#444" font-weight="normal">Etravirine</text>
<rect x="83.10" y="292.30" width="2.60" height="2.60" fill="#b4b4f0"/>
<text x="88.20" y="294.75" font-size="3.27" text-anchor="start" fill="#444" font-weight="normal">Nevirapine</text>
<rect x="107.90" y="292.30" width="2.60" height="2.60" fill="#d5a4df"/>
<text x="112.80" y="294.75" font-size="3.27" text-anchor="start" fill="#444" font-weight="normal">Rilpivirine</text>
<line x1="197.70" y1="361.00" x2="197.70" y2="466.50" stroke="#e8e8e8" stroke-width="0.5"/>
<text x="197.70" y="471.30" font-size="3.6" text-anchor="middle" fill="#3a3a3a" font-weight="normal">0</text>
<line x1="243.70" y1="361.00" x2="243.70" y2="466.50" stroke="#e8e8e8" stroke-width="0.5"/>
<text x="243.70" y="471.30" font-size="3.6" text-anchor="middle" fill="#3a3a3a" font-weight="normal">20</text>
<line x1="289.70" y1="361.00" x2="289.70" y2="466.50" stroke="#e8e8e8" stroke-width="0.5"/>
<text x="289.70" y="471.30" font-size="3.6" text-anchor="middle" fill="#3a3a3a" font-weight="normal">40</text>
<line x1="335.70" y1="361.00" x2="335.70" y2="466.50" stroke="#e8e8e8" stroke-width="0.5"/>
<text x="335.70" y="471.30" font-size="3.6" text-anchor="middle" fill="#3a3a3a" font-weight="normal">60</text>
<line x1="381.70" y1="361.00" x2="381.70" y2="466.50" stroke="#e8e8e8" stroke-width="0.5"/>
<text x="381.70" y="471.30" font-size="3.6" text-anchor="middle" fill="#3a3a3a" font-weight="normal">80</text>
<rect x="197.70" y="364.05" width="34.50" height="3.00" fill="#170a24"/>
<rect x="197.70" y="369.16" width="11.50" height="3.00" fill="#3d4993"/>
<rect x="209.20" y="369.16" width="11.50" height="3.00" fill="#cb58b3"/>
<rect x="220.70" y="369.16" width="11.50" height="3.00" fill="#b4b4f0"/>
<rect x="197.70" y="374.26" width="34.50" height="3.00" fill="#d5a4df"/>
<rect x="197.70" y="379.37" width="11.50" height="3.00" fill="#cb58b3"/>
<rect x="197.70" y="384.47" width="11.50" height="3.00" fill="#170a24"/>
<rect x="209.20" y="384.47" width="11.50" height="3.00" fill="#cb58b3"/>
<rect x="197.70" y="389.57" width="11.50" height="3.00" fill="#170a24"/>
<rect x="209.20" y="389.57" width="11.50" height="3.00" fill="#cb58b3"/>
<rect x="197.70" y="394.68" width="23.00" height="3.00" fill="#170a24"/>
<rect x="197.70" y="399.79" width="46.00" height="3.00" fill="#3d4993"/>
<rect x="243.70" y="399.79" width="46.00" height="3.00" fill="#b4b4f0"/>
<rect x="289.70" y="399.79" width="34.50" height="3.00" fill="#d5a4df"/>
<rect x="197.70" y="404.89" width="34.50" height="3.00" fill="#170a24"/>
<rect x="232.20" y="404.89" width="34.50" height="3.00" fill="#3d4993"/>
<rect x="197.70" y="410.00" width="23.00" height="3.00" fill="#170a24"/>
<rect x="220.70" y="410.00" width="23.00" height="3.00" fill="#d5a4df"/>
<rect x="197.70" y="415.10" width="23.00" height="3.00" fill="#170a24"/>
<rect x="197.70" y="420.21" width="23.00" height="3.00" fill="#170a24"/>
<rect x="197.70" y="425.31" width="34.50" height="3.00" fill="#170a24"/>
<rect x="197.70" y="430.42" width="34.50" height="3.00" fill="#d5a4df"/>
<rect x="197.70" y="435.52" width="34.50" height="3.00" fill="#cb58b3"/>
<rect x="232.20" y="435.52" width="34.50" height="3.00" fill="#d5a4df"/>
<rect x="197.70" y="440.62" width="23.00" height="3.00" fill="#cb58b3"/>
<rect x="220.70" y="440.62" width="23.00" height="3.00" fill="#d5a4df"/>
<rect x="197.70" y="445.73" width="46.00" height="3.00" fill="#170a24"/>
<rect x="243.70" y="445.73" width="23.00" height="3.00" fill="#cb58b3"/>
<rect x="266.70" y="445.73" width="23.00" height="3.00" fill="#d5a4df"/>
<rect x="197.70" y="450.84" width="23.00" height="3.00" fill="#170a24"/>
<rect x="220.70" y="450.84" width="23.00" height="3.00" fill="#d5a4df"/>
<rect x="197.70" y="455.94" width="11.50" height="3.00" fill="#170a24"/>
<rect x="209.20" y="455.94" width="11.50" height="3.00" fill="#3d4993"/>
<rect x="220.70" y="455.94" width="11.50" height="3.00" fill="#cb58b3"/>
<rect x="232.20" y="455.94" width="11.50" height="3.00" fill="#b4b4f0"/>
<rect x="243.70" y="455.94" width="11.50" height="3.00" fill="#d5a4df"/>
<rect x="197.70" y="461.05" width="34.50" height="3.00" fill="#170a24"/>
<rect x="232.20" y="461.05" width="34.50" height="3.00" fill="#3d4993"/>
<rect x="266.70" y="461.05" width="34.50" height="3.00" fill="#cb58b3"/>
<rect x="301.20" y="461.05" width="34.50" height="3.00" fill="#b4b4f0"/>
<rect x="335.70" y="461.05" width="34.50" height="3.00" fill="#d5a4df"/>
<text x="196.10" y="366.85" font-size="3.73" text-anchor="end" fill="#2a2a2a" font-weight="normal" stroke="#2a2a2a" stroke-width="0.05">L100I + K103N</text>
<text x="196.10" y="371.96" font-size="3.73" text-anchor="end" fill="#2a2a2a" font-weight="normal" stroke="#2a2a2a" stroke-width="0.05">K101E + Y181C</text>
<text x="196.10" y="377.06" font-size="3.73" text-anchor="end" fill="#2a2a2a" font-weight="normal" stroke="#2a2a2a" stroke-width="0.05">K101E + M184I</text>
<text x="196.10" y="382.17" font-size="3.73" text-anchor="end" fill="#2a2a2a" font-weight="normal" stroke="#2a2a2a" stroke-width="0.05">K101E + Y188L</text>
<text x="196.10" y="387.27" font-size="3.73" text-anchor="end" fill="#2a2a2a" font-weight="normal" stroke="#2a2a2a" stroke-width="0.05">K101E + G190A</text>
<text x="196.10" y="392.38" font-size="3.73" text-anchor="end" fill="#2a2a2a" font-weight="normal" stroke="#2a2a2a" stroke-width="0.05">K101E + G190S</text>
<text x="196.10" y="397.48" font-size="3.73" text-anchor="end" fill="#2a2a2a" font-weight="normal" stroke="#2a2a2a" stroke-width="0.05">K103N + Y181C</text>
<text x="196.10" y="402.59" font-size="3.73" text-anchor="end" fill="#2a2a2a" font-weight="normal" stroke="#2a2a2a" stroke-width="0.05">K103R + V179D</text>
<text x="196.10" y="407.69" font-size="3.73" text-anchor="end" fill="#2a2a2a" font-weight="normal" stroke="#2a2a2a" stroke-width="0.05">V106A + F227L</text>
<text x="196.10" y="412.80" font-size="3.73" text-anchor="end" fill="#2a2a2a" font-weight="normal" stroke="#2a2a2a" stroke-width="0.05">V106I + Y181C</text>
<text x="196.10" y="417.90" font-size="3.73" text-anchor="end" fill="#2a2a2a" font-weight="normal" stroke="#2a2a2a" stroke-width="0.05">V108I + G190S</text>
<text x="196.10" y="423.01" font-size="3.73" text-anchor="end" fill="#2a2a2a" font-weight="normal" stroke="#2a2a2a" stroke-width="0.05">V108I + Y181C</text>
<text x="196.10" y="428.11" font-size="3.73" text-anchor="end" fill="#2a2a2a" font-weight="normal" stroke="#2a2a2a" stroke-width="0.05">V108I + L234I</text>
<text x="196.10" y="433.22" font-size="3.73" text-anchor="end" fill="#2a2a2a" font-weight="normal" stroke="#2a2a2a" stroke-width="0.05">E138K + M184I</text>
<text x="196.10" y="438.32" font-size="3.73" text-anchor="end" fill="#2a2a2a" font-weight="normal" stroke="#2a2a2a" stroke-width="0.05">V179F + Y181C</text>
<text x="196.10" y="443.43" font-size="3.73" text-anchor="end" fill="#2a2a2a" font-weight="normal" stroke="#2a2a2a" stroke-width="0.05">V179T + Y181C</text>
<text x="196.10" y="448.53" font-size="3.73" text-anchor="end" fill="#2a2a2a" font-weight="normal" stroke="#2a2a2a" stroke-width="0.05">Y181C + G190ACSTV</text>
<text x="196.10" y="453.64" font-size="3.73" text-anchor="end" fill="#2a2a2a" font-weight="normal" stroke="#2a2a2a" stroke-width="0.05">Y181CIV + H221Y</text>
<text x="196.10" y="458.74" font-size="3.73" text-anchor="end" fill="#2a2a2a" font-weight="normal" stroke="#2a2a2a" stroke-width="0.05">A98G + Y181C</text>
<text x="196.10" y="463.85" font-size="3.73" text-anchor="end" fill="#2a2a2a" font-weight="normal" stroke="#2a2a2a" stroke-width="0.05">A98G + F227C</text>
<text x="150.30" y="344.60" font-size="6.09" text-anchor="start" fill="#222" font-weight="normal" stroke="#222" stroke-width="0.05">NNRTI Resistance Mutation Combination Scores</text>
<text x="289.60" y="482.00" font-size="3.65" text-anchor="middle" fill="#505050" font-weight="normal">Occurrence</text>
<text x="154.10" y="417.00" font-size="3.9" text-anchor="middle" fill="#555" font-weight="normal" transform="rotate(-90 154.10 417.00)">Mutation Combination</text>
<text x="143.40" y="486.60" font-size="6.8" text-anchor="start" fill="#111" font-weight="bold">D</text>
<rect x="200.20" y="352.20" width="3.20" height="3.20" fill="#170a24"/>
<text x="206.40" y="355.10" font-size="3.65" text-anchor="start" fill="#444" font-weight="normal">Doravirine</text>
<rect x="227.70" y="352.20" width="3.20" height="3.20" fill="#3d4993"/>
<text x="233.70" y="355.10" font-size="3.65" text-anchor="start" fill="#444" font-weight="normal">Efavirenz</text>
<rect x="253.80" y="352.20" width="3.20" height="3.20" fill="#cb58b3"/>
<text x="260.10" y="355.10" font-size="3.65" text-anchor="start" fill="#444" font-weight="normal">Etravirine</text>
<rect x="281.60" y="352.20" width="3.20" height="3.20" fill="#b4b4f0"/>
<text x="287.40" y="355.10" font-size="3.65" text-anchor="start" fill="#444" font-weight="normal">Nevirapine</text>
<rect x="310.70" y="352.20" width="3.20" height="3.20" fill="#d5a4df"/>
<text x="316.50" y="355.10" font-size="3.65" text-anchor="start" fill="#444" font-weight="normal">Rilpivirine</text>
<line x1="141.50" y1="488.65" x2="389.00" y2="488.65" stroke="#f0f0f0" stroke-width="0.5"/>
<line x1="143.50" y1="331.80" x2="387.50" y2="331.80" stroke="#f3f3f3" stroke-width="0.5"/>
<line x1="387.50" y1="331.80" x2="387.50" y2="488.80" stroke="#f3f3f3" stroke-width="0.5"/>
</svg>
</body></html>
